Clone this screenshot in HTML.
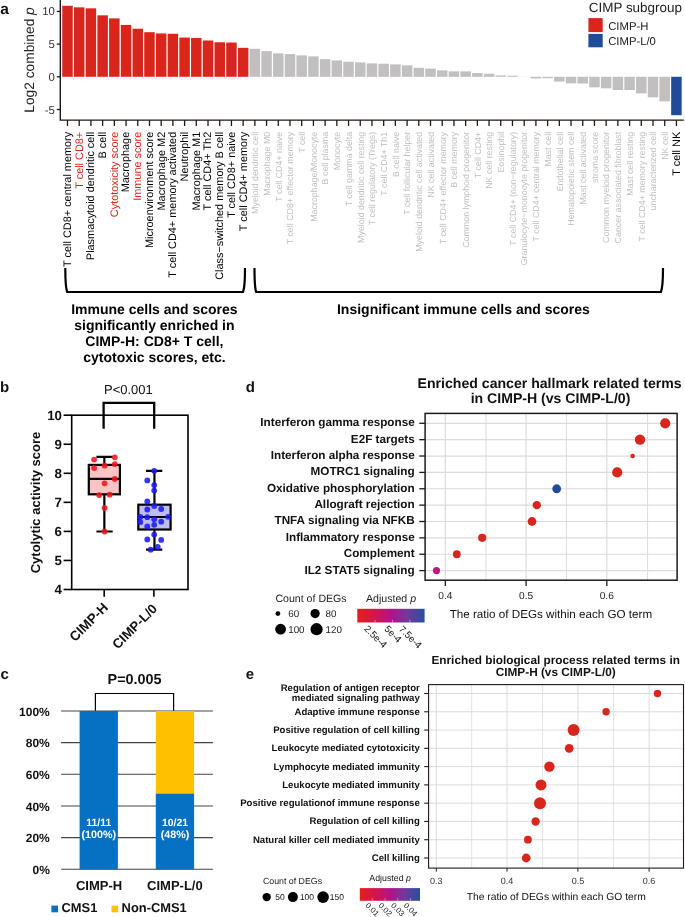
<!DOCTYPE html><html><head><meta charset="utf-8"><title>CIMP figure</title>
<style>html,body{margin:0;padding:0;background:#fff}svg{display:block}text{font-family:"Liberation Sans", sans-serif;text-rendering:geometricPrecision}</style></head><body>
<svg width="685" height="917" viewBox="0 0 685 917">
<rect width="685" height="917" fill="#fff"/>
<defs><linearGradient id="gp" x1="0" x2="1" y1="0" y2="0"><stop offset="0" stop-color="#e0211b"/><stop offset="0.25" stop-color="#d3164a"/><stop offset="0.5" stop-color="#b5128a"/><stop offset="0.75" stop-color="#6f3a9a"/><stop offset="1" stop-color="#2450a0"/></linearGradient></defs>
<g id="panel-a">
<rect x="62.25" y="5.78" width="10.5" height="71.02" fill="#d9261c"/>
<rect x="73.96" y="7.35" width="10.5" height="69.45" fill="#d9261c"/>
<rect x="85.67" y="8.33" width="10.5" height="68.47" fill="#d9261c"/>
<rect x="97.38" y="15.32" width="10.5" height="61.48" fill="#d9261c"/>
<rect x="109.09" y="18.40" width="10.5" height="58.40" fill="#d9261c"/>
<rect x="120.80" y="24.94" width="10.5" height="51.86" fill="#d9261c"/>
<rect x="132.51" y="28.73" width="10.5" height="48.07" fill="#d9261c"/>
<rect x="144.22" y="32.20" width="10.5" height="44.60" fill="#d9261c"/>
<rect x="155.93" y="33.44" width="10.5" height="43.36" fill="#d9261c"/>
<rect x="167.64" y="33.77" width="10.5" height="43.03" fill="#d9261c"/>
<rect x="179.35" y="37.56" width="10.5" height="39.24" fill="#d9261c"/>
<rect x="191.06" y="38.02" width="10.5" height="38.78" fill="#d9261c"/>
<rect x="202.77" y="40.50" width="10.5" height="36.30" fill="#d9261c"/>
<rect x="214.48" y="42.27" width="10.5" height="34.53" fill="#d9261c"/>
<rect x="226.19" y="42.53" width="10.5" height="34.27" fill="#d9261c"/>
<rect x="237.90" y="47.83" width="10.5" height="28.97" fill="#d9261c"/>
<rect x="249.61" y="48.81" width="10.5" height="27.99" fill="#c1bfc0"/>
<rect x="261.32" y="51.10" width="10.5" height="25.70" fill="#c1bfc0"/>
<rect x="273.03" y="53.39" width="10.5" height="23.41" fill="#c1bfc0"/>
<rect x="284.74" y="54.11" width="10.5" height="22.69" fill="#c1bfc0"/>
<rect x="296.45" y="55.41" width="10.5" height="21.39" fill="#c1bfc0"/>
<rect x="308.16" y="56.40" width="10.5" height="20.40" fill="#c1bfc0"/>
<rect x="319.87" y="59.14" width="10.5" height="17.66" fill="#c1bfc0"/>
<rect x="331.58" y="60.45" width="10.5" height="16.35" fill="#c1bfc0"/>
<rect x="343.29" y="61.76" width="10.5" height="15.04" fill="#c1bfc0"/>
<rect x="355.00" y="62.41" width="10.5" height="14.39" fill="#c1bfc0"/>
<rect x="366.71" y="63.39" width="10.5" height="13.41" fill="#c1bfc0"/>
<rect x="378.42" y="63.72" width="10.5" height="13.08" fill="#c1bfc0"/>
<rect x="390.13" y="64.37" width="10.5" height="12.43" fill="#c1bfc0"/>
<rect x="401.84" y="65.35" width="10.5" height="11.45" fill="#c1bfc0"/>
<rect x="413.55" y="67.84" width="10.5" height="8.96" fill="#c1bfc0"/>
<rect x="425.26" y="68.62" width="10.5" height="8.18" fill="#c1bfc0"/>
<rect x="436.97" y="70.39" width="10.5" height="6.41" fill="#c1bfc0"/>
<rect x="448.68" y="71.37" width="10.5" height="5.43" fill="#c1bfc0"/>
<rect x="460.39" y="71.37" width="10.5" height="5.43" fill="#c1bfc0"/>
<rect x="472.10" y="73.01" width="10.5" height="3.79" fill="#c1bfc0"/>
<rect x="483.81" y="73.73" width="10.5" height="3.07" fill="#c1bfc0"/>
<rect x="495.52" y="75.43" width="10.5" height="1.37" fill="#c1bfc0"/>
<rect x="507.23" y="75.69" width="10.5" height="1.11" fill="#c1bfc0"/>
<rect x="518.94" y="76.67" width="10.5" height="0.13" fill="#c1bfc0"/>
<rect x="530.65" y="76.80" width="10.5" height="1.64" fill="#c1bfc0"/>
<rect x="542.36" y="76.80" width="10.5" height="1.44" fill="#c1bfc0"/>
<rect x="554.07" y="76.80" width="10.5" height="4.71" fill="#c1bfc0"/>
<rect x="565.78" y="76.80" width="10.5" height="6.54" fill="#c1bfc0"/>
<rect x="577.49" y="76.80" width="10.5" height="6.74" fill="#c1bfc0"/>
<rect x="589.20" y="76.80" width="10.5" height="10.53" fill="#c1bfc0"/>
<rect x="600.91" y="76.80" width="10.5" height="11.51" fill="#c1bfc0"/>
<rect x="612.62" y="76.80" width="10.5" height="13.21" fill="#c1bfc0"/>
<rect x="624.33" y="76.80" width="10.5" height="13.21" fill="#c1bfc0"/>
<rect x="636.04" y="76.80" width="10.5" height="16.55" fill="#c1bfc0"/>
<rect x="647.75" y="76.80" width="10.5" height="20.54" fill="#c1bfc0"/>
<rect x="659.46" y="76.80" width="10.5" height="24.52" fill="#c1bfc0"/>
<rect x="671.17" y="76.80" width="10.5" height="38.39" fill="#1f4b99"/>
<path d="M60.3 0V120.1H683.8" fill="none" stroke="#231815" stroke-width="1.4"/>
<path d="M56.8 11.40H60.3" stroke="#231815" stroke-width="1.3"/>
<text x="54.8" y="15.40" font-size="11.4" text-anchor="end" fill="#333">10</text>
<path d="M56.8 44.10H60.3" stroke="#231815" stroke-width="1.3"/>
<text x="54.8" y="48.10" font-size="11.4" text-anchor="end" fill="#333">5</text>
<path d="M56.8 76.80H60.3" stroke="#231815" stroke-width="1.3"/>
<text x="54.8" y="80.80" font-size="11.4" text-anchor="end" fill="#333">0</text>
<path d="M56.8 109.50H60.3" stroke="#231815" stroke-width="1.3"/>
<text x="54.8" y="113.50" font-size="11.4" text-anchor="end" fill="#333">-5</text>
<text transform="translate(33.6 60) rotate(-90)" font-size="13.75" text-anchor="middle" fill="#222">Log2 combined <tspan font-style="italic">p</tspan></text>
<text x="0.3" y="14.4" font-size="15.5" font-weight="bold" fill="#111">a</text>
<path d="M67.50 120.1V126" stroke="#231815" stroke-width="1.3"/>
<text transform="translate(70.85 131.8) rotate(-90)" font-size="10.9" text-anchor="end" fill="#000">T cell CD8+ central memory</text>
<path d="M79.21 120.1V126" stroke="#231815" stroke-width="1.3"/>
<text transform="translate(82.56 131.8) rotate(-90)" font-size="10.9" text-anchor="end" fill="#d9261c">T cell CD8+</text>
<path d="M90.92 120.1V126" stroke="#231815" stroke-width="1.3"/>
<text transform="translate(94.27 131.8) rotate(-90)" font-size="10.9" text-anchor="end" fill="#000">Plasmacytoid dendritic cell</text>
<path d="M102.63 120.1V126" stroke="#231815" stroke-width="1.3"/>
<text transform="translate(105.98 131.8) rotate(-90)" font-size="10.9" text-anchor="end" fill="#000">B cell</text>
<path d="M114.34 120.1V126" stroke="#231815" stroke-width="1.3"/>
<text transform="translate(117.69 131.8) rotate(-90)" font-size="10.9" text-anchor="end" fill="#d9261c">Cytotoxicity score</text>
<path d="M126.05 120.1V126" stroke="#231815" stroke-width="1.3"/>
<text transform="translate(129.40 131.8) rotate(-90)" font-size="10.9" text-anchor="end" fill="#000">Macrophage</text>
<path d="M137.76 120.1V126" stroke="#231815" stroke-width="1.3"/>
<text transform="translate(141.11 131.8) rotate(-90)" font-size="10.9" text-anchor="end" fill="#d9261c">Immune score</text>
<path d="M149.47 120.1V126" stroke="#231815" stroke-width="1.3"/>
<text transform="translate(152.82 131.8) rotate(-90)" font-size="10.9" text-anchor="end" fill="#000">Microenvironment score</text>
<path d="M161.18 120.1V126" stroke="#231815" stroke-width="1.3"/>
<text transform="translate(164.53 131.8) rotate(-90)" font-size="10.9" text-anchor="end" fill="#000">Macrophage M2</text>
<path d="M172.89 120.1V126" stroke="#231815" stroke-width="1.3"/>
<text transform="translate(176.24 131.8) rotate(-90)" font-size="10.9" text-anchor="end" fill="#000">T cell CD4+ memory activated</text>
<path d="M184.60 120.1V126" stroke="#231815" stroke-width="1.3"/>
<text transform="translate(187.95 131.8) rotate(-90)" font-size="10.9" text-anchor="end" fill="#000">Neutrophil</text>
<path d="M196.31 120.1V126" stroke="#231815" stroke-width="1.3"/>
<text transform="translate(199.66 131.8) rotate(-90)" font-size="10.9" text-anchor="end" fill="#000">Macrophage M1</text>
<path d="M208.02 120.1V126" stroke="#231815" stroke-width="1.3"/>
<text transform="translate(211.37 131.8) rotate(-90)" font-size="10.9" text-anchor="end" fill="#000">T cell CD4+ Th2</text>
<path d="M219.73 120.1V126" stroke="#231815" stroke-width="1.3"/>
<text transform="translate(223.08 131.8) rotate(-90)" font-size="10.9" text-anchor="end" fill="#000">Class−switched memory B cell</text>
<path d="M231.44 120.1V126" stroke="#231815" stroke-width="1.3"/>
<text transform="translate(234.79 131.8) rotate(-90)" font-size="10.9" text-anchor="end" fill="#000">T cell CD8+ naive</text>
<path d="M243.15 120.1V126" stroke="#231815" stroke-width="1.3"/>
<text transform="translate(246.50 131.8) rotate(-90)" font-size="10.9" text-anchor="end" fill="#000">T cell CD4+ memory</text>
<path d="M254.86 120.1V126" stroke="#231815" stroke-width="1.3"/>
<text transform="translate(258.16 131.8) rotate(-90)" font-size="8.85" text-anchor="end" fill="#bfbfbf">Myeloid dendritic cell</text>
<path d="M266.57 120.1V126" stroke="#231815" stroke-width="1.3"/>
<text transform="translate(269.87 131.8) rotate(-90)" font-size="8.85" text-anchor="end" fill="#bfbfbf">Macrophage M0</text>
<path d="M278.28 120.1V126" stroke="#231815" stroke-width="1.3"/>
<text transform="translate(281.58 131.8) rotate(-90)" font-size="8.85" text-anchor="end" fill="#bfbfbf">T cell CD4+ naive</text>
<path d="M289.99 120.1V126" stroke="#231815" stroke-width="1.3"/>
<text transform="translate(293.29 131.8) rotate(-90)" font-size="8.85" text-anchor="end" fill="#bfbfbf">T cell CD8+ effector memory</text>
<path d="M301.70 120.1V126" stroke="#231815" stroke-width="1.3"/>
<text transform="translate(305.00 131.8) rotate(-90)" font-size="8.85" text-anchor="end" fill="#bfbfbf">T cell</text>
<path d="M313.41 120.1V126" stroke="#231815" stroke-width="1.3"/>
<text transform="translate(316.71 131.8) rotate(-90)" font-size="8.85" text-anchor="end" fill="#bfbfbf">Macrophage/Monocyte</text>
<path d="M325.12 120.1V126" stroke="#231815" stroke-width="1.3"/>
<text transform="translate(328.42 131.8) rotate(-90)" font-size="8.85" text-anchor="end" fill="#bfbfbf">B cell plasma</text>
<path d="M336.83 120.1V126" stroke="#231815" stroke-width="1.3"/>
<text transform="translate(340.13 131.8) rotate(-90)" font-size="8.85" text-anchor="end" fill="#bfbfbf">Monocyte</text>
<path d="M348.54 120.1V126" stroke="#231815" stroke-width="1.3"/>
<text transform="translate(351.84 131.8) rotate(-90)" font-size="8.85" text-anchor="end" fill="#bfbfbf">T cell gamma delta</text>
<path d="M360.25 120.1V126" stroke="#231815" stroke-width="1.3"/>
<text transform="translate(363.55 131.8) rotate(-90)" font-size="8.85" text-anchor="end" fill="#bfbfbf">Myeloid dendritic cell resting</text>
<path d="M371.96 120.1V126" stroke="#231815" stroke-width="1.3"/>
<text transform="translate(375.26 131.8) rotate(-90)" font-size="8.85" text-anchor="end" fill="#bfbfbf">T cell regulatory (Tregs)</text>
<path d="M383.67 120.1V126" stroke="#231815" stroke-width="1.3"/>
<text transform="translate(386.97 131.8) rotate(-90)" font-size="8.85" text-anchor="end" fill="#bfbfbf">T cell CD4+ Th1</text>
<path d="M395.38 120.1V126" stroke="#231815" stroke-width="1.3"/>
<text transform="translate(398.68 131.8) rotate(-90)" font-size="8.85" text-anchor="end" fill="#bfbfbf">B cell naive</text>
<path d="M407.09 120.1V126" stroke="#231815" stroke-width="1.3"/>
<text transform="translate(410.39 131.8) rotate(-90)" font-size="8.85" text-anchor="end" fill="#bfbfbf">T cell follicular helper</text>
<path d="M418.80 120.1V126" stroke="#231815" stroke-width="1.3"/>
<text transform="translate(422.10 131.8) rotate(-90)" font-size="8.85" text-anchor="end" fill="#bfbfbf">Myeloid dendritic cell activated</text>
<path d="M430.51 120.1V126" stroke="#231815" stroke-width="1.3"/>
<text transform="translate(433.81 131.8) rotate(-90)" font-size="8.85" text-anchor="end" fill="#bfbfbf">NK cell activated</text>
<path d="M442.22 120.1V126" stroke="#231815" stroke-width="1.3"/>
<text transform="translate(445.52 131.8) rotate(-90)" font-size="8.85" text-anchor="end" fill="#bfbfbf">T cell CD4+ effector memory</text>
<path d="M453.93 120.1V126" stroke="#231815" stroke-width="1.3"/>
<text transform="translate(457.23 131.8) rotate(-90)" font-size="8.85" text-anchor="end" fill="#bfbfbf">B cell memory</text>
<path d="M465.64 120.1V126" stroke="#231815" stroke-width="1.3"/>
<text transform="translate(468.94 131.8) rotate(-90)" font-size="8.85" text-anchor="end" fill="#bfbfbf">Common lymphoid progenitor</text>
<path d="M477.35 120.1V126" stroke="#231815" stroke-width="1.3"/>
<text transform="translate(480.65 131.8) rotate(-90)" font-size="8.85" text-anchor="end" fill="#bfbfbf">T cell CD4+</text>
<path d="M489.06 120.1V126" stroke="#231815" stroke-width="1.3"/>
<text transform="translate(492.36 131.8) rotate(-90)" font-size="8.85" text-anchor="end" fill="#bfbfbf">NK cell resting</text>
<path d="M500.77 120.1V126" stroke="#231815" stroke-width="1.3"/>
<text transform="translate(504.07 131.8) rotate(-90)" font-size="8.85" text-anchor="end" fill="#bfbfbf">Eosinophil</text>
<path d="M512.48 120.1V126" stroke="#231815" stroke-width="1.3"/>
<text transform="translate(515.78 131.8) rotate(-90)" font-size="8.85" text-anchor="end" fill="#bfbfbf">T cell CD4+ (non−regulatory)</text>
<path d="M524.19 120.1V126" stroke="#231815" stroke-width="1.3"/>
<text transform="translate(527.49 131.8) rotate(-90)" font-size="8.85" text-anchor="end" fill="#bfbfbf">Granulocyte−monocyte progenitor</text>
<path d="M535.90 120.1V126" stroke="#231815" stroke-width="1.3"/>
<text transform="translate(539.20 131.8) rotate(-90)" font-size="8.85" text-anchor="end" fill="#bfbfbf">T cell CD4+ central memory</text>
<path d="M547.61 120.1V126" stroke="#231815" stroke-width="1.3"/>
<text transform="translate(550.91 131.8) rotate(-90)" font-size="8.85" text-anchor="end" fill="#bfbfbf">Mast cell</text>
<path d="M559.32 120.1V126" stroke="#231815" stroke-width="1.3"/>
<text transform="translate(562.62 131.8) rotate(-90)" font-size="8.85" text-anchor="end" fill="#bfbfbf">Endothelial cell</text>
<path d="M571.03 120.1V126" stroke="#231815" stroke-width="1.3"/>
<text transform="translate(574.33 131.8) rotate(-90)" font-size="8.85" text-anchor="end" fill="#bfbfbf">Hematopoietic stem cell</text>
<path d="M582.74 120.1V126" stroke="#231815" stroke-width="1.3"/>
<text transform="translate(586.04 131.8) rotate(-90)" font-size="8.85" text-anchor="end" fill="#bfbfbf">Mast cell activated</text>
<path d="M594.45 120.1V126" stroke="#231815" stroke-width="1.3"/>
<text transform="translate(597.75 131.8) rotate(-90)" font-size="8.85" text-anchor="end" fill="#bfbfbf">stroma score</text>
<path d="M606.16 120.1V126" stroke="#231815" stroke-width="1.3"/>
<text transform="translate(609.46 131.8) rotate(-90)" font-size="8.85" text-anchor="end" fill="#bfbfbf">Common myeloid progenitor</text>
<path d="M617.87 120.1V126" stroke="#231815" stroke-width="1.3"/>
<text transform="translate(621.17 131.8) rotate(-90)" font-size="8.85" text-anchor="end" fill="#bfbfbf">Cancer associated fibroblast</text>
<path d="M629.58 120.1V126" stroke="#231815" stroke-width="1.3"/>
<text transform="translate(632.88 131.8) rotate(-90)" font-size="8.85" text-anchor="end" fill="#bfbfbf">Mast cell resting</text>
<path d="M641.29 120.1V126" stroke="#231815" stroke-width="1.3"/>
<text transform="translate(644.59 131.8) rotate(-90)" font-size="8.85" text-anchor="end" fill="#bfbfbf">T cell CD4+ memory resting</text>
<path d="M653.00 120.1V126" stroke="#231815" stroke-width="1.3"/>
<text transform="translate(656.30 131.8) rotate(-90)" font-size="8.85" text-anchor="end" fill="#bfbfbf">uncharacterized cell</text>
<path d="M664.71 120.1V126" stroke="#231815" stroke-width="1.3"/>
<text transform="translate(668.01 131.8) rotate(-90)" font-size="8.85" text-anchor="end" fill="#bfbfbf">NK cell</text>
<path d="M676.42 120.1V126" stroke="#231815" stroke-width="1.3"/>
<text transform="translate(679.77 131.8) rotate(-90)" font-size="10.9" text-anchor="end" fill="#000">T cell NK</text>
 <text x="588.8" y="11.5" font-size="13.45" fill="#222">CIMP subgroup</text>
<rect x="588.4" y="18.1" width="14.3" height="14" fill="#d9261c"/>
<rect x="588.4" y="33.9" width="14.3" height="13.4" fill="#1f4b99"/>
<text x="608.2" y="29.5" font-size="11.3" fill="#222">CIMP-H</text>
<text x="608.2" y="44.8" font-size="11.3" fill="#222">CIMP-L/0</text>
<path d="M65.3 268C65.3 282 66 289 67.2 292H243C244.3 289 245 282 245 268" fill="none" stroke="#000" stroke-width="2.2"/>
<path d="M254.5 268C254.5 282 255 289 256.2 292H660.9C662.2 289 663 282 663 268" fill="none" stroke="#000" stroke-width="2.2"/>
<text x="154.4" y="313.80" font-size="14" font-weight="bold" text-anchor="middle" fill="#000">Immune cells and scores</text>
<text x="154.4" y="329.70" font-size="14" font-weight="bold" text-anchor="middle" fill="#000">significantly enriched in</text>
<text x="154.4" y="345.60" font-size="14" font-weight="bold" text-anchor="middle" fill="#000">CIMP-H: CD8+ T cell,</text>
<text x="154.4" y="361.50" font-size="14" font-weight="bold" text-anchor="middle" fill="#000">cytotoxic scores, etc.</text>
<text x="463.4" y="313.6" font-size="14" font-weight="bold" text-anchor="middle" fill="#000">Insignificant immune cells and scores</text>
</g>
<g id="panel-b">
<text x="0" y="391.9" font-size="15" font-weight="bold" fill="#111">b</text>
<text x="128.4" y="394.3" font-size="13" text-anchor="middle" fill="#111">P&lt;0.001</text>
<rect x="88.8" y="464.9" width="31.10" height="29.40" fill="#fbc4c4"/>
<path d="M104.35 456.9V464.9M104.35 494.3V531.5M96.4 456.9H112.7M96.4 531.5H112.7M88.8 478.8H119.9" stroke="#000" stroke-width="2.2" fill="none"/>
<rect x="88.8" y="464.9" width="31.10" height="29.40" fill="none" stroke="#000" stroke-width="2.2"/>
<rect x="138.3" y="504.7" width="32.30" height="24.80" fill="#bcbcf7"/>
<path d="M154.45 470.8V504.7M154.45 529.5V549.7M146.0 470.8H162.3M146.0 549.7H162.3M138.3 517.0H170.6" stroke="#000" stroke-width="2.2" fill="none"/>
<rect x="138.3" y="504.7" width="32.30" height="24.80" fill="none" stroke="#000" stroke-width="2.2"/>
<circle cx="94.1" cy="459.6" r="2.9" fill="#f2141e" fill-opacity="0.88"/>
<circle cx="114.8" cy="457.3" r="2.9" fill="#f2141e" fill-opacity="0.88"/>
<circle cx="94.1" cy="468.0" r="2.9" fill="#f2141e" fill-opacity="0.88"/>
<circle cx="104.6" cy="465.7" r="2.9" fill="#f2141e" fill-opacity="0.88"/>
<circle cx="114.8" cy="464.1" r="2.9" fill="#f2141e" fill-opacity="0.88"/>
<circle cx="114.8" cy="479.0" r="2.9" fill="#f2141e" fill-opacity="0.88"/>
<circle cx="104.6" cy="483.3" r="2.9" fill="#f2141e" fill-opacity="0.88"/>
<circle cx="99.2" cy="495.1" r="2.9" fill="#f2141e" fill-opacity="0.88"/>
<circle cx="109.7" cy="494.7" r="2.9" fill="#f2141e" fill-opacity="0.88"/>
<circle cx="104.6" cy="508.0" r="2.9" fill="#f2141e" fill-opacity="0.88"/>
<circle cx="104.6" cy="531.5" r="2.9" fill="#f2141e" fill-opacity="0.88"/>
<circle cx="154.2" cy="470.8" r="2.9" fill="#1a1af5" fill-opacity="0.88"/>
<circle cx="147.3" cy="480.4" r="2.9" fill="#1a1af5" fill-opacity="0.88"/>
<circle cx="154.2" cy="485.1" r="2.9" fill="#1a1af5" fill-opacity="0.88"/>
<circle cx="154.2" cy="490.6" r="2.9" fill="#1a1af5" fill-opacity="0.88"/>
<circle cx="147.3" cy="501.5" r="2.9" fill="#1a1af5" fill-opacity="0.88"/>
<circle cx="154.2" cy="506.0" r="2.9" fill="#1a1af5" fill-opacity="0.88"/>
<circle cx="161.2" cy="509.0" r="2.9" fill="#1a1af5" fill-opacity="0.88"/>
<circle cx="147.3" cy="509.5" r="2.9" fill="#1a1af5" fill-opacity="0.88"/>
<circle cx="140.3" cy="517.0" r="2.9" fill="#1a1af5" fill-opacity="0.88"/>
<circle cx="147.3" cy="517.2" r="2.9" fill="#1a1af5" fill-opacity="0.88"/>
<circle cx="154.2" cy="519.3" r="2.9" fill="#1a1af5" fill-opacity="0.88"/>
<circle cx="168.1" cy="516.8" r="2.9" fill="#1a1af5" fill-opacity="0.88"/>
<circle cx="161.2" cy="521.7" r="2.9" fill="#1a1af5" fill-opacity="0.88"/>
<circle cx="140.3" cy="522.1" r="2.9" fill="#1a1af5" fill-opacity="0.88"/>
<circle cx="147.3" cy="526.4" r="2.9" fill="#1a1af5" fill-opacity="0.88"/>
<circle cx="154.2" cy="524.8" r="2.9" fill="#1a1af5" fill-opacity="0.88"/>
<circle cx="154.2" cy="534.6" r="2.9" fill="#1a1af5" fill-opacity="0.88"/>
<circle cx="147.3" cy="539.5" r="2.9" fill="#1a1af5" fill-opacity="0.88"/>
<circle cx="161.2" cy="539.9" r="2.9" fill="#1a1af5" fill-opacity="0.88"/>
<circle cx="157.7" cy="546.9" r="2.9" fill="#1a1af5" fill-opacity="0.88"/>
<circle cx="150.7" cy="549.7" r="2.9" fill="#1a1af5" fill-opacity="0.88"/>
<rect x="71.7" y="415.2" width="116.30" height="174.30" fill="none" stroke="#000" stroke-width="1.6"/>
<path d="M63.6 589.50H71.7" stroke="#000" stroke-width="1.6"/>
<text x="62" y="594.20" font-size="13.3" font-weight="bold" text-anchor="end" fill="#111">4</text>
<path d="M63.6 560.45H71.7" stroke="#000" stroke-width="1.6"/>
<text x="62" y="565.15" font-size="13.3" font-weight="bold" text-anchor="end" fill="#111">5</text>
<path d="M63.6 531.40H71.7" stroke="#000" stroke-width="1.6"/>
<text x="62" y="536.10" font-size="13.3" font-weight="bold" text-anchor="end" fill="#111">6</text>
<path d="M63.6 502.35H71.7" stroke="#000" stroke-width="1.6"/>
<text x="62" y="507.05" font-size="13.3" font-weight="bold" text-anchor="end" fill="#111">7</text>
<path d="M63.6 473.30H71.7" stroke="#000" stroke-width="1.6"/>
<text x="62" y="478.00" font-size="13.3" font-weight="bold" text-anchor="end" fill="#111">8</text>
<path d="M63.6 444.25H71.7" stroke="#000" stroke-width="1.6"/>
<text x="62" y="448.95" font-size="13.3" font-weight="bold" text-anchor="end" fill="#111">9</text>
<path d="M63.6 415.20H71.7" stroke="#000" stroke-width="1.6"/>
<text x="62" y="419.90" font-size="13.3" font-weight="bold" text-anchor="end" fill="#111">10</text>
<path d="M104.2 589.5V596.8" stroke="#000" stroke-width="1.6"/>
<path d="M153.9 589.5V596.8" stroke="#000" stroke-width="1.6"/>
<path d="M103.6 428.8V402.8H154.2V428.8" fill="none" stroke="#000" stroke-width="2.3"/>
<text transform="translate(40.2 502.5) rotate(-90)" font-size="13" font-weight="bold" text-anchor="middle" fill="#111">Cytolytic activity score</text>
<text transform="translate(108.9 608.3) rotate(-45)" font-size="13.5" font-weight="bold" text-anchor="end" fill="#111">CIMP-H</text>
<text transform="translate(158 609.5) rotate(-45)" font-size="13.3" font-weight="bold" text-anchor="end" fill="#111">CIMP-L/0</text>
</g>
<g id="panel-c">
<text x="0.4" y="678.8" font-size="15" font-weight="bold" fill="#111">c</text>
<text x="134.6"  y="683.8" font-size="14.4" font-weight="bold" text-anchor="middle" fill="#111">P=0.005</text>
<path d="M61.1 869.30H212.9" stroke="#444" stroke-width="1.1"/>
<text x="49.8" y="874.10" font-size="12" font-weight="bold" text-anchor="end" fill="#111">0%</text>
<path d="M61.1 837.64H212.9" stroke="#444" stroke-width="1.1"/>
<text x="49.8" y="842.44" font-size="12" font-weight="bold" text-anchor="end" fill="#111">20%</text>
<path d="M61.1 805.98H212.9" stroke="#444" stroke-width="1.1"/>
<text x="49.8" y="810.78" font-size="12" font-weight="bold" text-anchor="end" fill="#111">40%</text>
<path d="M61.1 774.32H212.9" stroke="#444" stroke-width="1.1"/>
<text x="49.8" y="779.12" font-size="12" font-weight="bold" text-anchor="end" fill="#111">60%</text>
<path d="M61.1 742.66H212.9" stroke="#444" stroke-width="1.1"/>
<text x="49.8" y="747.46" font-size="12" font-weight="bold" text-anchor="end" fill="#111">80%</text>
<path d="M61.1 711.00H212.9" stroke="#444" stroke-width="1.1"/>
<text x="49.8" y="715.80" font-size="12" font-weight="bold" text-anchor="end" fill="#111">100%</text>
<rect x="79.6" y="711.0" width="38.3" height="158.30" fill="#0670c3"/>
<rect x="155.8" y="711.0" width="38.3" height="82.60" fill="#ffc000"/>
<rect x="155.8" y="793.6" width="38.3" height="75.70" fill="#0670c3"/>
<path d="M95.4 710.7V693.5H173.6V710.7" fill="none" stroke="#000" stroke-width="1.2"/>
<text x="98.75" y="825.7" font-size="10.4" font-weight="bold" text-anchor="middle" fill="#fff">11/11</text>
<text x="98.75"  y="838" font-size="10.7" font-weight="bold" text-anchor="middle" fill="#fff">(100%)</text>
<text x="174.95" y="825.7" font-size="10.4" font-weight="bold" text-anchor="middle" fill="#fff">10/21</text>
<text x="174.95"  y="838" font-size="10.7" font-weight="bold" text-anchor="middle" fill="#fff">(48%)</text>
<text x="99.1" y="889.5" font-size="13" font-weight="bold" text-anchor="middle" fill="#111">CIMP-H</text>
<text x="174.9" y="889.5" font-size="13" font-weight="bold" text-anchor="middle" fill="#111">CIMP-L/0</text>
<rect x="51.4" y="905.6" width="6.7" height="6.7" fill="#0670c3"/>
<text x="61.5" y="912.4" font-size="12.9" font-weight="bold" fill="#111">CMS1</text>
<rect x="111.5" y="905.6" width="6.7" height="6.7" fill="#ffc000"/>
<text x="121.6" y="912.4" font-size="12.9" font-weight="bold" fill="#111">Non-CMS1</text>
</g>
<g id="panel-d">
<text x="245.8" y="391.8" font-size="15" font-weight="bold" fill="#111">d</text>
<text x="549.6" y="388.2" font-size="14.1" font-weight="bold" text-anchor="middle" fill="#111">Enriched cancer hallmark related terms</text>
<text x="550.5" y="402.8" font-size="14.1" font-weight="bold" text-anchor="middle" fill="#111">in CIMP-H (vs CIMP-L/0)</text>
<path d="M486.0 413.4V580.2" stroke="#dcdcdc" stroke-width="1.0"/>
<path d="M566.4 413.4V580.2" stroke="#dcdcdc" stroke-width="1.0"/>
<path d="M647.6 413.4V580.2" stroke="#dcdcdc" stroke-width="1.0"/>
<path d="M445.3 413.4V580.2" stroke="#dcdcdc" stroke-width="1.2"/>
<path d="M445.3 580.2V586" stroke="#231815" stroke-width="1.3"/>
<path d="M526.1 413.4V580.2" stroke="#dcdcdc" stroke-width="1.2"/>
<path d="M526.1 580.2V586" stroke="#231815" stroke-width="1.3"/>
<path d="M606.8 413.4V580.2" stroke="#dcdcdc" stroke-width="1.2"/>
<path d="M606.8 580.2V586" stroke="#231815" stroke-width="1.3"/>
<path d="M425.1 423.30H677.1" stroke="#dcdcdc" stroke-width="1.2"/>
<path d="M425.1 439.67H677.1" stroke="#dcdcdc" stroke-width="1.2"/>
<path d="M425.1 456.03H677.1" stroke="#dcdcdc" stroke-width="1.2"/>
<path d="M425.1 472.40H677.1" stroke="#dcdcdc" stroke-width="1.2"/>
<path d="M425.1 488.77H677.1" stroke="#dcdcdc" stroke-width="1.2"/>
<path d="M425.1 505.13H677.1" stroke="#dcdcdc" stroke-width="1.2"/>
<path d="M425.1 521.50H677.1" stroke="#dcdcdc" stroke-width="1.2"/>
<path d="M425.1 537.87H677.1" stroke="#dcdcdc" stroke-width="1.2"/>
<path d="M425.1 554.23H677.1" stroke="#dcdcdc" stroke-width="1.2"/>
<path d="M425.1 570.60H677.1" stroke="#dcdcdc" stroke-width="1.2"/>
<path d="M419.3 423.30H425.1" stroke="#231815" stroke-width="1.3"/>
<text x="414.7" y="426.20" font-size="11.72" font-weight="bold" text-anchor="end" fill="#111">Interferon gamma response</text>
<circle cx="665.2" cy="423.30" r="5.1" fill="#d9261c"/>
<path d="M419.3 439.67H425.1" stroke="#231815" stroke-width="1.3"/>
<text x="414.7" y="442.57" font-size="11.72" font-weight="bold" text-anchor="end" fill="#111">E2F targets</text>
<circle cx="640.0" cy="439.67" r="5.2" fill="#d9261c"/>
<path d="M419.3 456.03H425.1" stroke="#231815" stroke-width="1.3"/>
<text x="414.7" y="458.93" font-size="11.72" font-weight="bold" text-anchor="end" fill="#111">Interferon alpha response</text>
<circle cx="632.6" cy="456.03" r="2.3" fill="#d9261c"/>
<path d="M419.3 472.40H425.1" stroke="#231815" stroke-width="1.3"/>
<text x="414.7" y="475.30" font-size="11.72" font-weight="bold" text-anchor="end" fill="#111">MOTRC1 signaling</text>
<circle cx="617.2" cy="472.40" r="5.1" fill="#d9261c"/>
<path d="M419.3 488.77H425.1" stroke="#231815" stroke-width="1.3"/>
<text x="414.7" y="491.67" font-size="11.72" font-weight="bold" text-anchor="end" fill="#111">Oxidative phosphorylation</text>
<circle cx="556.7" cy="488.77" r="4.4" fill="#1f4b99"/>
<path d="M419.3 505.13H425.1" stroke="#231815" stroke-width="1.3"/>
<text x="414.7" y="508.03" font-size="11.72" font-weight="bold" text-anchor="end" fill="#111">Allograft rejection</text>
<circle cx="536.8" cy="505.13" r="4.2" fill="#d9261c"/>
<path d="M419.3 521.50H425.1" stroke="#231815" stroke-width="1.3"/>
<text x="414.7" y="524.40" font-size="11.72" font-weight="bold" text-anchor="end" fill="#111">TNFA signaling via NFKB</text>
<circle cx="532.0" cy="521.50" r="4.4" fill="#d9261c"/>
<path d="M419.3 537.87H425.1" stroke="#231815" stroke-width="1.3"/>
<text x="414.7" y="540.77" font-size="11.72" font-weight="bold" text-anchor="end" fill="#111">Inflammatory response</text>
<circle cx="482.2" cy="537.87" r="4.1" fill="#d9261c"/>
<path d="M419.3 554.23H425.1" stroke="#231815" stroke-width="1.3"/>
<text x="414.7" y="557.13" font-size="11.72" font-weight="bold" text-anchor="end" fill="#111">Complement</text>
<circle cx="456.8" cy="554.23" r="3.9" fill="#d9261c"/>
<path d="M419.3 570.60H425.1" stroke="#231815" stroke-width="1.3"/>
<text x="414.7" y="573.50" font-size="11.72" font-weight="bold" text-anchor="end" fill="#111">IL2 STAT5 signaling</text>
<circle cx="436.5" cy="570.60" r="3.6" fill="#bd1a7e"/>
<rect x="425.1" y="413.4" width="252.00" height="166.80" fill="none" stroke="#1f1a19" stroke-width="1.5"/>
<text x="445.4" y="599.3" font-size="10.2" text-anchor="middle" fill="#262626">0.4</text>
<text x="526.1" y="599.3" font-size="10.2" text-anchor="middle" fill="#262626">0.5</text>
<text x="606.8" y="599.3" font-size="10.2" text-anchor="middle" fill="#262626">0.6</text>
<text x="550.9" y="617.5" font-size="11.65" text-anchor="middle" fill="#111">The ratio of DEGs within each GO term</text>
<text x="275.4" y="601.9" font-size="10.6" fill="#222">Count of DEGs</text>
<text x="366" y="601.9" font-size="10.6" fill="#222">Adjusted <tspan font-style="italic">p</tspan></text>
<circle cx="277.9" cy="613.6" r="2.4" fill="#000"/>
<text x="288.2" y="617.20" font-size="9.8" fill="#222">60</text>
<circle cx="315.1" cy="613.6" r="4.6" fill="#000"/>
<text x="325.6" y="617.20" font-size="9.8" fill="#222">80</text>
<circle cx="280.6" cy="629.2" r="5.4" fill="#000"/>
<text x="288.2" y="632.80" font-size="9.8" fill="#222">100</text>
<circle cx="316.6" cy="629.2" r="6.1" fill="#000"/>
<text x="325.6" y="632.80" font-size="9.8" fill="#222">120</text>
<rect x="357.3" y="608.8" width="67.3" height="13.7" fill="url(#gp)"/>
<path d="M375.0 619.8V622.5" stroke="#fff" stroke-width="0.6" opacity="0.7"/>
<text transform="translate(375.0 637.2) rotate(45)" font-size="9.7" text-anchor="middle" dominant-baseline="central" fill="#111">2.5e-4</text>
<path d="M392.4 619.8V622.5" stroke="#fff" stroke-width="0.6" opacity="0.7"/>
<text transform="translate(392.4 634.7) rotate(45)" font-size="9.7" text-anchor="middle" dominant-baseline="central" fill="#111">5e-4</text>
<path d="M409.8 619.8V622.5" stroke="#fff" stroke-width="0.6" opacity="0.7"/>
<text transform="translate(409.8 637.6) rotate(45)" font-size="9.7" text-anchor="middle" dominant-baseline="central" fill="#111">7.5e-4</text>
</g>
<g id="panel-e">
<text x="245.8" y="678.6" font-size="15" font-weight="bold" fill="#111">e</text>
<text x="555.7" y="663.6" font-size="11.8" font-weight="bold" text-anchor="middle" fill="#111">Enriched biological process related terms in</text>
<text x="555.7" y="675.5" font-size="11.8" font-weight="bold" text-anchor="middle" fill="#111">CIMP-H (vs CIMP-L/0)</text>
<path d="M471.7 684.6V868.1" stroke="#dcdcdc" stroke-width="0.8"/>
<path d="M542.6 684.6V868.1" stroke="#dcdcdc" stroke-width="0.8"/>
<path d="M613.5 684.6V868.1" stroke="#dcdcdc" stroke-width="0.8"/>
<path d="M436.3 684.6V868.1" stroke="#dcdcdc" stroke-width="1.0"/>
<path d="M436.3 868.1V871.6" stroke="#231815" stroke-width="1.0"/>
<path d="M507.0 684.6V868.1" stroke="#dcdcdc" stroke-width="1.0"/>
<path d="M507.0 868.1V871.6" stroke="#231815" stroke-width="1.0"/>
<path d="M577.9 684.6V868.1" stroke="#dcdcdc" stroke-width="1.0"/>
<path d="M577.9 868.1V871.6" stroke="#231815" stroke-width="1.0"/>
<path d="M649.1 684.6V868.1" stroke="#dcdcdc" stroke-width="1.0"/>
<path d="M649.1 868.1V871.6" stroke="#231815" stroke-width="1.0"/>
<path d="M428.6 693.50H683.5" stroke="#dcdcdc" stroke-width="1.0"/>
<path d="M428.6 711.78H683.5" stroke="#dcdcdc" stroke-width="1.0"/>
<path d="M428.6 730.06H683.5" stroke="#dcdcdc" stroke-width="1.0"/>
<path d="M428.6 748.33H683.5" stroke="#dcdcdc" stroke-width="1.0"/>
<path d="M428.6 766.61H683.5" stroke="#dcdcdc" stroke-width="1.0"/>
<path d="M428.6 784.89H683.5" stroke="#dcdcdc" stroke-width="1.0"/>
<path d="M428.6 803.17H683.5" stroke="#dcdcdc" stroke-width="1.0"/>
<path d="M428.6 821.44H683.5" stroke="#dcdcdc" stroke-width="1.0"/>
<path d="M428.6 839.72H683.5" stroke="#dcdcdc" stroke-width="1.0"/>
<path d="M428.6 858.00H683.5" stroke="#dcdcdc" stroke-width="1.0"/>
<path d="M424.2 693.50H428.6" stroke="#231815" stroke-width="1.1"/>
<text x="419.8" y="691.30" font-size="9.6" font-weight="bold" text-anchor="end" fill="#111">Regulation of antigen receptor</text>
<text x="419.8" y="700.80" font-size="9.6" font-weight="bold" text-anchor="end" fill="#111">mediated signaling pathway</text>
<circle cx="657.5" cy="693.50" r="3.7" fill="#d9261c"/>
<path d="M424.2 711.78H428.6" stroke="#231815" stroke-width="1.1"/>
<text x="419.8" y="714.78" font-size="9.6" font-weight="bold" text-anchor="end" fill="#111">Adaptive immune response</text>
<circle cx="606.1" cy="711.78" r="3.7" fill="#d9261c"/>
<path d="M424.2 730.06H428.6" stroke="#231815" stroke-width="1.1"/>
<text x="419.8" y="733.06" font-size="9.6" font-weight="bold" text-anchor="end" fill="#111">Positive regulation of cell killing</text>
<circle cx="573.6" cy="730.06" r="6.0" fill="#d9261c"/>
<path d="M424.2 748.33H428.6" stroke="#231815" stroke-width="1.1"/>
<text x="419.8" y="751.33" font-size="9.6" font-weight="bold" text-anchor="end" fill="#111">Leukocyte mediated cytotoxicity</text>
<circle cx="569.2" cy="748.33" r="4.4" fill="#d9261c"/>
<path d="M424.2 766.61H428.6" stroke="#231815" stroke-width="1.1"/>
<text x="419.8" y="769.61" font-size="9.6" font-weight="bold" text-anchor="end" fill="#111">Lymphocyte mediated immunity</text>
<circle cx="549.4" cy="766.61" r="5.2" fill="#d9261c"/>
<path d="M424.2 784.89H428.6" stroke="#231815" stroke-width="1.1"/>
<text x="419.8" y="787.89" font-size="9.6" font-weight="bold" text-anchor="end" fill="#111">Leukocyte mediated immunity</text>
<circle cx="541.0" cy="784.89" r="5.5" fill="#d9261c"/>
<path d="M424.2 803.17H428.6" stroke="#231815" stroke-width="1.1"/>
<text x="419.8" y="806.17" font-size="9.6" font-weight="bold" text-anchor="end" fill="#111">Positive regulationof immune response</text>
<circle cx="540.0" cy="803.17" r="6.0" fill="#d9261c"/>
<path d="M424.2 821.44H428.6" stroke="#231815" stroke-width="1.1"/>
<text x="419.8" y="824.44" font-size="9.6" font-weight="bold" text-anchor="end" fill="#111">Regulation of cell killing</text>
<circle cx="535.6" cy="821.44" r="4.2" fill="#d9261c"/>
<path d="M424.2 839.72H428.6" stroke="#231815" stroke-width="1.1"/>
<text x="419.8" y="842.72" font-size="9.6" font-weight="bold" text-anchor="end" fill="#111">Natural killer cell mediated immunity</text>
<circle cx="527.9" cy="839.72" r="3.9" fill="#d9261c"/>
<path d="M424.2 858.00H428.6" stroke="#231815" stroke-width="1.1"/>
<text x="419.8" y="861.00" font-size="9.6" font-weight="bold" text-anchor="end" fill="#111">Cell killing</text>
<circle cx="526.2" cy="858.00" r="4.4" fill="#d9261c"/>
<rect x="428.6" y="684.6" width="254.90" height="183.50" fill="none" stroke="#231815" stroke-width="1.1"/>
<text x="436.3" y="883.8" font-size="9" text-anchor="middle" fill="#333">0.3</text>
<text x="507.0" y="883.8" font-size="9" text-anchor="middle" fill="#333">0.4</text>
<text x="577.9" y="883.8" font-size="9" text-anchor="middle" fill="#333">0.5</text>
<text x="649.1" y="883.8" font-size="9" text-anchor="middle" fill="#333">0.6</text>
<text x="556.2" y="900.1" font-size="10.3" text-anchor="middle" fill="#111">The ratio of DEGs within each GO term</text>
<text x="262.9" y="883.9" font-size="8.8" fill="#222">Count of DEGs</text>
<text x="369.3" y="880.8" font-size="8.8" fill="#111">Adjusted <tspan font-style="italic">p</tspan></text>
<circle cx="266.7" cy="897.1" r="4.2" fill="#000"/>
<text x="275.2" y="900" font-size="8.5" fill="#111">50</text>
<circle cx="292.9" cy="897.1" r="5.0" fill="#000"/>
<text x="299.9" y="900" font-size="8.5" fill="#111">100</text>
<circle cx="323.1" cy="897.1" r="5.8" fill="#000"/>
<text x="329.8" y="900" font-size="8.5" fill="#111">150</text>
<rect x="359.8" y="888.1" width="60.2" height="12.7" fill="url(#gp)"/>
<path d="M372.2 898.2V900.8" stroke="#fff" stroke-width="0.6" opacity="0.7"/>
<text transform="translate(372.2 909.6) rotate(45)" font-size="7.8" text-anchor="middle" dominant-baseline="central" fill="#111">0.01</text>
<path d="M385.1 898.2V900.8" stroke="#fff" stroke-width="0.6" opacity="0.7"/>
<text transform="translate(385.1 909.6) rotate(45)" font-size="7.8" text-anchor="middle" dominant-baseline="central" fill="#111">0.02</text>
<path d="M397.7 898.2V900.8" stroke="#fff" stroke-width="0.6" opacity="0.7"/>
<text transform="translate(397.7 909.6) rotate(45)" font-size="7.8" text-anchor="middle" dominant-baseline="central" fill="#111">0.03</text>
<path d="M410.5 898.2V900.8" stroke="#fff" stroke-width="0.6" opacity="0.7"/>
<text transform="translate(410.5 909.6) rotate(45)" font-size="7.8" text-anchor="middle" dominant-baseline="central" fill="#111">0.04</text>
</g>
</svg></body></html>
